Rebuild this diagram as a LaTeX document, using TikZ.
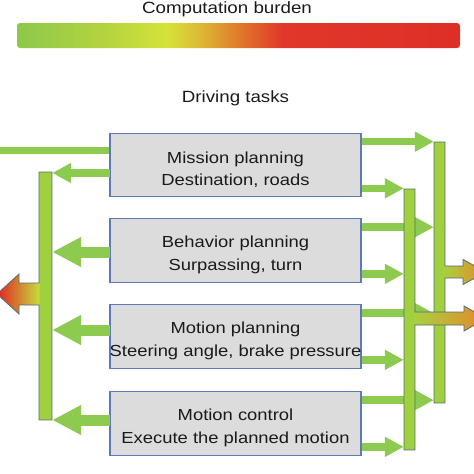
\documentclass[tikz,border=0pt]{standalone}
\usepackage{fontspec}
\setmainfont{Liberation Sans}[FakeStretch=1.15]
\usetikzlibrary{arrows.meta}
\definecolor{agreen}{HTML}{8CCB50}
\definecolor{bgreen}{HTML}{A0D03E}
\definecolor{barline}{HTML}{4E6E7E}
\definecolor{boxfill}{HTML}{DCDCDC}
\definecolor{boxline}{HTML}{5D7AB5}
\definecolor{txt}{HTML}{1A1A1A}
\definecolor{c0}{HTML}{8DC84B}
\definecolor{c1}{HTML}{B4D43E}
\definecolor{c2}{HTML}{D6E23A}
\definecolor{c3}{HTML}{DDB535}
\definecolor{c4}{HTML}{E07A2B}
\definecolor{c5}{HTML}{E0372A}
\definecolor{c6}{HTML}{DE2F27}
\definecolor{tipred}{HTML}{E02424}
\definecolor{tiporange}{HTML}{E8A030}
\definecolor{ygreen}{HTML}{C8DC3C}
\definecolor{outorange}{HTML}{E8862A}
\definecolor{outyellow}{HTML}{D8DC3A}
\definecolor{outgreen}{HTML}{A8D040}
\pgfdeclarehorizontalshading{burden}{100bp}{color(0bp)=(c0); color(25bp)=(c0); color(35bp)=(c1); color(42bp)=(c2); color(46bp)=(c3); color(50bp)=(c4); color(55bp)=(c5); color(75bp)=(c6); color(100bp)=(c6)}
\begin{document}
\begin{tikzpicture}[x=1pt,y=-1pt,
  title/.style={anchor=base, inner sep=0, text=txt, font=\fontsize{16.3}{20}\selectfont},
  taskbox/.style={draw=boxline, line width=1.2pt, fill=boxfill, minimum width=251pt, minimum height=63.5pt, inner sep=0},
  tasktext/.style={align=center, inner sep=0, text=txt, font=\fontsize{16}{22.5}\selectfont},
  bar/.style={fill=bgreen, draw=none, inner sep=0},
  sarrow/.style={draw=agreen, line width=7.5pt, -{Triangle[length=19pt,width=19pt]}},
  larrow/.style={draw=agreen, line width=11pt, -{Triangle[length=29pt,width=28pt]}},
  outline/.style={draw=barline, line width=0.8pt, line join=miter}
]
\useasboundingbox (0,0) rectangle (474,474);
\clip (0,0) rectangle (474,474);

% header
\node[title] (cb) at (227,13) {Computation burden};
\shade[shading=burden, rounded corners=3pt] (17,23) rectangle (460,48);
\node[title] (dt) at (235.5,102) {Driving tasks};

% task boxes
\node[taskbox] (m) at (235.5,165) {};
\node[tasktext] (mt) at (235.5,169.5) {Mission planning\\Destination, roads};
\node[taskbox] (b) at (235.5,250.5) {};
\node[tasktext] (bt) at (235.5,255) {Behavior planning\\Surpassing, turn};
\node[taskbox] (p) at (235.5,336.5) {};
\node[tasktext] (pt) at (235.5,341) {Motion planning\\Steering angle, brake pressure};
\node[taskbox] (c) at (235.5,423.5) {};
\node[tasktext] (ct) at (235.5,428) {Motion control\\Execute the planned motion};

% bars (positions)
\path (45.5,296) node[minimum width=13pt, minimum height=248pt, inner sep=0] (lb) {};
\path (409.5,319.5) node[minimum width=11pt, minimum height=261pt, inner sep=0] (ib) {};
\path (439.5,272.5) node[minimum width=11pt, minimum height=261pt, inner sep=0] (ob) {};

% input line
\coordinate (in) at (0,150);
\draw[draw=agreen, line width=7pt] (in) -- (in -| m.west);

% left arrows
\coordinate (m-l) at (110,173);
\coordinate (b-l) at (110,252);
\coordinate (p-l) at (110,330);
\coordinate (c-l) at (110,420);
\draw[sarrow] (m-l) -- (m-l -| lb.east);
\draw[larrow] (b-l) -- (b-l -| lb.east);
\draw[larrow] (p-l) -- (p-l -| lb.east);
\draw[larrow] (c-l) -- (c-l -| lb.east);

% right arrows
\foreach \t in {m,b,p,c}{
  \coordinate (\t-r1) at ([yshift=-9pt]\t.north east);
  \coordinate (\t-r2) at ([yshift=9pt]\t.south east);
  \draw[sarrow] (\t-r1) -- (\t-r1 -| ob.west);
  \draw[sarrow] (\t-r2) -- (\t-r2 -| ib.west);
}

% left collector bar with output arrow
\fill[bgreen] (lb.north west) rectangle (lb.south east);
\shade[left color=tipred, middle color=tiporange, right color=ygreen]
  (39.5,283) -- (19,283) -- (19,274) -- (-3,294) -- (19,314) -- (19,305) -- (39.5,305) -- cycle;
\draw[outline] (39,172) -- (52,172) -- (52,420) -- (39,420) -- (39,305) -- (19,305) -- (19,314)
  -- (-3,294) -- (19,274) -- (19,283) -- (39,283) -- cycle;

% outer right bar with output arrow
\fill[bgreen] (ob.north west) rectangle (ob.south east);
\shade[left color=outgreen, right color=outorange]
  (444.6,266) -- (463,266) -- (463,259.5) -- (486,272) -- (463,284.5) -- (463,278) -- (444.6,278) -- cycle;
\draw[outline] (434,142) -- (445,142) -- (445,266) -- (463,266) -- (463,259.5) -- (486,272)
  -- (463,284.5) -- (463,278) -- (445,278) -- (445,403) -- (434,403) -- cycle;

% inner right bar with output arrow
\fill[bgreen] (ib.north west) rectangle (ib.south east);
\shade[left color=outgreen, middle color=outyellow, right color=outorange]
  (414.6,312) -- (464,312) -- (464,306) -- (486,318.5) -- (464,331) -- (464,325) -- (414.6,325) -- cycle;
\draw[outline] (404,189) -- (415,189) -- (415,312) -- (464,312) -- (464,306) -- (486,318.5)
  -- (464,331) -- (464,325) -- (415,325) -- (415,450) -- (404,450) -- cycle;
\end{tikzpicture}
\end{document}
